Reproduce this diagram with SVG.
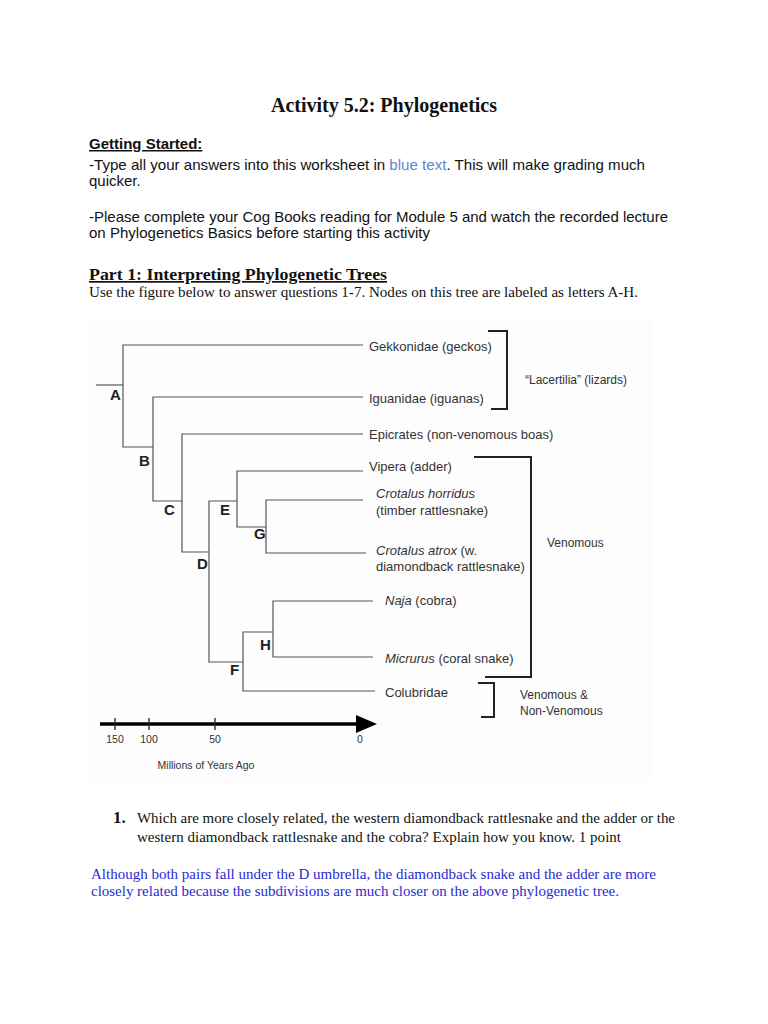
<svg xmlns="http://www.w3.org/2000/svg" width="768" height="1024" viewBox="0 0 768 1024">
<defs>
<style>
.sans{font-family:"Liberation Sans",Arial,sans-serif;fill:#111}
.serif{font-family:"Liberation Serif","Times New Roman",serif;fill:#111}
.lbl{font-family:"Liberation Sans",Arial,sans-serif;font-size:13px;fill:#333}
.sm{font-family:"Liberation Sans",Arial,sans-serif;font-size:12px;fill:#333}
.ax{font-family:"Liberation Sans",Arial,sans-serif;font-size:10.5px;fill:#333}
.node{font-family:"Liberation Sans",Arial,sans-serif;font-size:15px;font-weight:bold;fill:#222}
.br{fill:none;stroke:#222;stroke-width:2}
.ans{font-family:"Liberation Serif","Times New Roman",serif;font-size:14.5px;fill:#2a2ad6}
</style>
</defs>
<rect x="0" y="0" width="768" height="1024" fill="#ffffff"/>

<!-- Header text -->
<g id="header">
<text class="serif" x="384" y="112" font-size="20" font-weight="bold" text-anchor="middle">Activity 5.2: Phylogenetics</text>
<text class="sans" x="89" y="149" font-size="15" font-weight="bold" text-decoration="underline">Getting Started:</text>
<text class="sans" x="89" y="170" font-size="15" textLength="556" lengthAdjust="spacingAndGlyphs">-Type all your answers into this worksheet in <tspan fill="#5b86d0">blue text</tspan>. This will make grading much</text>
<text class="sans" x="89" y="186" font-size="15">quicker.</text>
<text class="sans" x="89" y="222" font-size="15" textLength="579" lengthAdjust="spacingAndGlyphs">-Please complete your Cog Books reading for Module 5 and watch the recorded lecture</text>
<text class="sans" x="89" y="238" font-size="15" textLength="341" lengthAdjust="spacingAndGlyphs">on Phylogenetics Basics before starting this activity</text>
<text class="serif" x="89" y="280" font-size="17" font-weight="bold" text-decoration="underline" textLength="298" lengthAdjust="spacingAndGlyphs">Part 1: Interpreting Phylogenetic Trees</text>
<text class="serif" x="89" y="297" font-size="14" textLength="549" lengthAdjust="spacingAndGlyphs">Use the figure below to answer questions 1-7. Nodes on this tree are labeled as letters A-H.</text>
</g>

<!-- Figure background -->
<rect x="90" y="318" width="562" height="464" fill="#fdfdfd"/>

<!-- Connectors (tree branches) -->
<g id="connectors" fill="none" stroke="#555" stroke-width="1.2">
<path d="M96 385 H123"/>
<path d="M363 345 H123 V447 H153"/>
<path d="M363 397 H153 V501 H182"/>
<path d="M363 434 H182 V552 H209"/>
<path d="M237 501 H209 V662 H243"/>
<path d="M363 471 H237 V527 H266"/>
<path d="M363 500 H266 V553 H366"/>
<path d="M375 691 H243 V632 H273"/>
<path d="M373 601 H273 V657 H373"/>
</g>

<!-- Node labels -->
<g id="node-A"><text class="node" x="110" y="400">A</text></g>
<g id="node-B"><text class="node" x="139" y="466">B</text></g>
<g id="node-C"><text class="node" x="164" y="515">C</text></g>
<g id="node-D"><text class="node" x="197" y="569">D</text></g>
<g id="node-E"><text class="node" x="220" y="515">E</text></g>
<g id="node-F"><text class="node" x="230" y="675">F</text></g>
<g id="node-G"><text class="node" x="254" y="539">G</text></g>
<g id="node-H"><text class="node" x="260" y="650">H</text></g>

<!-- Leaf labels -->
<g id="leaf-gekkonidae"><text class="lbl" x="369" y="351">Gekkonidae (geckos)</text></g>
<g id="leaf-iguanidae"><text class="lbl" x="369" y="403">Iguanidae (iguanas)</text></g>
<g id="leaf-epicrates"><text class="lbl" x="369" y="439">Epicrates (non-venomous boas)</text></g>
<g id="leaf-vipera"><text class="lbl" x="369" y="471">Vipera (adder)</text></g>
<g id="leaf-crotalus-horridus"><text class="lbl" x="376" y="498"><tspan font-style="italic">Crotalus horridus</tspan></text><text class="lbl" x="376" y="515">(timber rattlesnake)</text></g>
<g id="leaf-crotalus-atrox"><text class="lbl" x="376" y="555"><tspan font-style="italic">Crotalus atrox</tspan> (w.</text><text class="lbl" x="376" y="571">diamondback rattlesnake)</text></g>
<g id="leaf-naja"><text class="lbl" x="385" y="605"><tspan font-style="italic">Naja</tspan> (cobra)</text></g>
<g id="leaf-micrurus"><text class="lbl" x="385" y="663"><tspan font-style="italic">Micrurus</tspan> (coral snake)</text></g>
<g id="leaf-colubridae"><text class="lbl" x="385" y="697">Colubridae</text></g>

<!-- Group brackets -->
<g id="group-lacertilia">
<path class="br" d="M488 331 H507 V409 H491"/>
<text class="sm" x="525" y="384">“Lacertilia” (lizards)</text>
</g>
<g id="group-venomous">
<path class="br" d="M474 457 H531 V677 H485"/>
<text class="sm" x="547" y="547" font-size="11.5">Venomous</text>
</g>
<g id="group-colubridae">
<path class="br" d="M478 683 H494 V717 H481"/>
<text class="sm" x="520" y="699" font-size="11.5">Venomous &amp;</text>
<text class="sm" x="520" y="715" font-size="11.5">Non-Venomous</text>
</g>

<!-- Time axis -->
<g id="time-axis">
<path d="M100 724 H360" stroke="#000" stroke-width="3.5" fill="none"/>
<path d="M356 715 L377 724 L356 733 Z" fill="#000"/>
<path d="M115 718 V730 M149 718 V730 M215 718 V730" stroke="#222" stroke-width="1.3"/>
<text class="ax" x="115" y="743" text-anchor="middle">150</text>
<text class="ax" x="149" y="743" text-anchor="middle">100</text>
<text class="ax" x="215" y="743" text-anchor="middle">50</text>
<text class="ax" x="360" y="743" text-anchor="middle">0</text>
<text class="ax" x="206" y="769" text-anchor="middle">Millions of Years Ago</text>
</g>

<!-- Question -->
<g id="question-1">
<text class="serif" x="113" y="823" font-size="17" font-weight="bold">1.</text>
<text class="serif" x="137" y="823" font-size="14.5" textLength="538" lengthAdjust="spacingAndGlyphs">Which are more closely related, the western diamondback rattlesnake and the adder or the</text>
<text class="serif" x="137" y="842" font-size="14.5" textLength="484" lengthAdjust="spacingAndGlyphs">western diamondback rattlesnake and the cobra? Explain how you know. 1 point</text>
</g>
<g id="answer-1">
<text class="ans" x="91" y="879" textLength="565" lengthAdjust="spacingAndGlyphs">Although both pairs fall under the D umbrella, the diamondback snake and the adder are more</text>
<text class="ans" x="91" y="896" textLength="528" lengthAdjust="spacingAndGlyphs">closely related because the subdivisions are much closer on the above phylogenetic tree.</text>
</g>
</svg>
